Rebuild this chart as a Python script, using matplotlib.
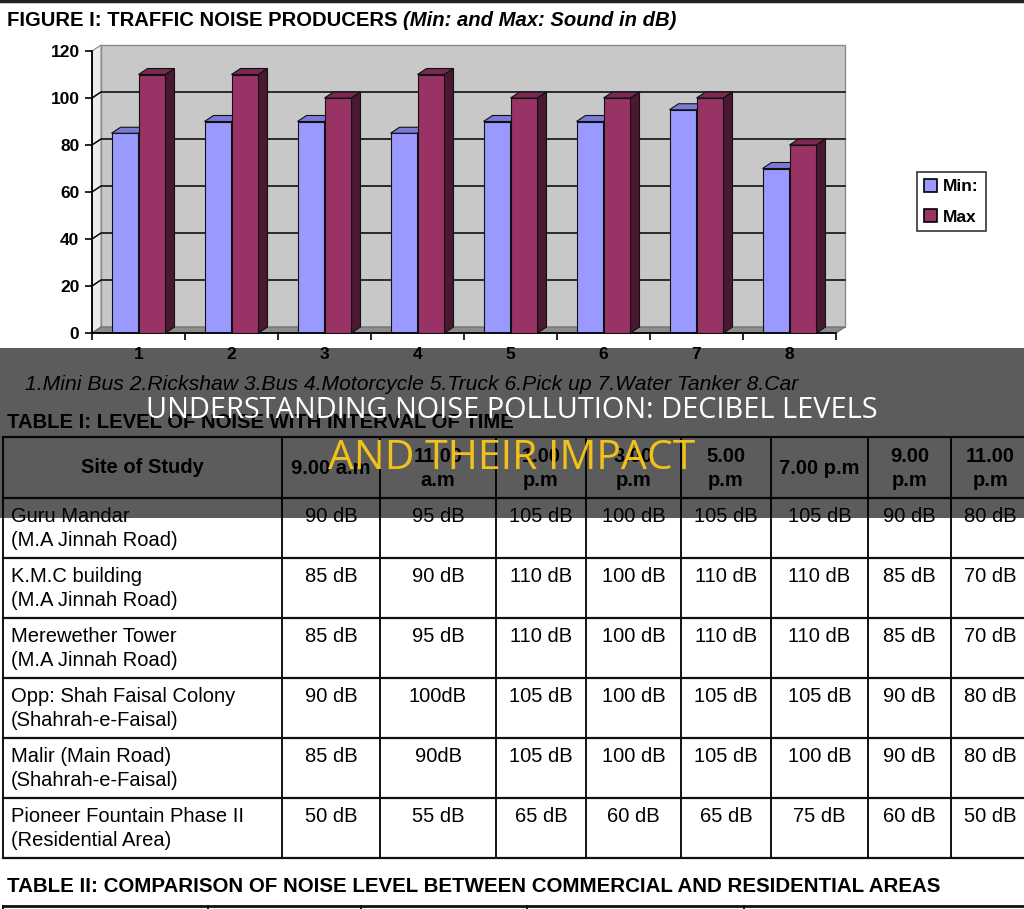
#!/usr/bin/env python3
"""plot.py - traffic noise page: 3D-style Min/Max bar chart + noise table + banner"""
import matplotlib

matplotlib.use("Agg")
import matplotlib.pyplot as plt
import numpy as np
from matplotlib import font_manager
from matplotlib.patches import Patch, Polygon, Rectangle

_names = {f.name for f in font_manager.fontManager.ttflist}


def pick(*names):
    for n in names:
        if n in _names:
            return n
    return "DejaVu Sans"


ARIAL = pick("Liberation Sans", "Arimo", "DejaVu Sans")
BANNER = pick("Open Sans", "Roboto", "Liberation Sans")

# ---- data ----
CATEGORIES = ["1", "2", "3", "4", "5", "6", "7", "8"]
MIN_DB = [85, 90, 90, 85, 90, 90, 95, 70]
MAX_DB = [110, 110, 100, 110, 100, 100, 100, 80]
SERIES = ["Min:", "Max"]
VEHICLES = ("1.Mini Bus 2.Rickshaw 3.Bus 4.Motorcycle 5.Truck 6.Pick up "
            "7.Water Tanker 8.Car")

TIME_HEADERS = ["9.00 a.m", "11.00\na.m", "1.00\np.m", "3.00\np.m",
                "5.00\np.m", "7.00 p.m", "9.00\np.m", "11.00\np.m"]
SITES = [("Guru Mandar", "(M.A Jinnah Road)"),
         ("K.M.C building", "(M.A Jinnah Road)"),
         ("Merewether Tower", "(M.A Jinnah Road)"),
         ("Opp: Shah Faisal Colony", "(Shahrah-e-Faisal)"),
         ("Malir (Main Road)", "(Shahrah-e-Faisal)"),
         ("Pioneer Fountain Phase II", "(Residential Area)")]
NOISE = [
    ["90 dB", "95 dB", "105 dB", "100 dB", "105 dB", "105 dB", "90 dB", "80 dB"],
    ["85 dB", "90 dB", "110 dB", "100 dB", "110 dB", "110 dB", "85 dB", "70 dB"],
    ["85 dB", "95 dB", "110 dB", "100 dB", "110 dB", "110 dB", "85 dB", "70 dB"],
    ["90 dB", "100dB", "105 dB", "100 dB", "105 dB", "105 dB", "90 dB", "80 dB"],
    ["85 dB", "90dB", "105 dB", "100 dB", "105 dB", "100 dB", "90 dB", "80 dB"],
    ["50 dB", "55 dB", "65 dB", "60 dB", "65 dB", "75 dB", "60 dB", "50 dB"],
]

W_PX, H_PX = 1024, 909
fig = plt.figure(figsize=(W_PX / 100, H_PX / 100), dpi=100)
fig.patch.set_facecolor("white")

page = fig.add_axes([0, 0, 1, 1])
page.set_xlim(0, W_PX)
page.set_ylim(H_PX, 0)
page.axis("off")

# ---- chart (3D look like the Excel original) ----
AX_L, AX_BOT, AX_W, AX_H = 92, 333, 744, 282
ax = fig.add_axes([AX_L / W_PX, (H_PX - AX_BOT) / H_PX, AX_W / W_PX, AX_H / H_PX])
ax.set_xlim(-0.5, len(CATEGORIES) - 0.5)
ax.set_ylim(0, 120)
ax.set_facecolor("none")
UX = len(CATEGORIES) / AX_W
UY = 120 / AX_H
DX, DY = 9 * UX, 6 * UY
BW = 27 * UX
x0, x1 = -0.5, len(CATEGORIES) - 0.5

# back wall, side wall, floor
ax.add_patch(Rectangle((x0 + DX, DY), x1 - x0, 120, facecolor="#C8C8C8",
                       edgecolor="#8A8A8A", lw=1.0, zorder=0, clip_on=False))
ax.add_patch(Polygon([(x0, 0), (x0 + DX, DY), (x0 + DX, 120 + DY), (x0, 120)],
                     facecolor="#EDEDED", edgecolor="#8A8A8A", lw=0.8,
                     zorder=0, clip_on=False))
ax.add_patch(Polygon([(x0, 0), (x1, 0), (x1 + DX, DY), (x0 + DX, DY)],
                     facecolor="#8C8C8C", edgecolor="#6A6A6A", lw=0.8,
                     zorder=0.5, clip_on=False))
for v in range(20, 101, 20):
    ax.plot([x0, x0 + DX, x1 + DX], [v, v + DY, v + DY], color="black",
            lw=1.1, zorder=0.8, clip_on=False)


def bar3d(xs, hs, front, top, side, z):
    ax.bar(xs, hs, width=BW, align="edge", color=front, edgecolor="#111111",
           lw=0.8, zorder=z)
    for l, h in zip(xs, hs):
        r = l + BW
        ax.add_patch(Polygon([(l, h), (l + DX, h + DY), (r + DX, h + DY), (r, h)],
                             facecolor=top, edgecolor="#111111", lw=0.8,
                             zorder=z, clip_on=False))
        ax.add_patch(Polygon([(r, 0), (r + DX, DY), (r + DX, h + DY), (r, h)],
                             facecolor=side, edgecolor="#111111", lw=0.8,
                             zorder=z, clip_on=False))


xc = np.arange(len(CATEGORIES))
bar3d(xc - BW, MIN_DB, "#9999FF", "#7B7BD6", "#5C5CA3", 2)
bar3d(xc, MAX_DB, "#993366", "#7A2952", "#4A1830", 3)

for s in ("top", "right"):
    ax.spines[s].set_visible(False)
ax.spines["left"].set_linewidth(1.3)
ax.spines["bottom"].set_linewidth(1.3)
ax.set_yticks(range(0, 121, 20))
ax.set_xticks(xc)
ax.set_xticklabels(CATEGORIES)
ax.set_xticks(np.arange(x0, x1 + 0.01, 1), minor=True)
ax.tick_params(axis="x", which="major", length=0, pad=10)
ax.tick_params(axis="x", which="minor", length=5, width=1.2, direction="out")
ax.tick_params(axis="y", length=5, width=1.2, direction="out", pad=4)
for lab in ax.get_xticklabels() + ax.get_yticklabels():
    lab.set_fontfamily(ARIAL)
    lab.set_fontweight("bold")
    lab.set_fontsize(12.5)

handles = [Patch(facecolor="#9999FF", edgecolor="black", lw=1.2),
           Patch(facecolor="#993366", edgecolor="black", lw=1.2)]
leg = fig.legend(handles, SERIES, loc="upper left",
                 bbox_to_anchor=(917 / W_PX, 1 - 172 / H_PX),
                 prop={"family": ARIAL, "weight": "bold", "size": 12.5},
                 frameon=True, fancybox=False, handlelength=0.75,
                 handleheight=0.75, handletextpad=0.35, labelspacing=0.85,
                 borderpad=0.4, borderaxespad=0)
leg.get_frame().set_edgecolor("black")
leg.get_frame().set_linewidth(1.2)

# ---- page texts ----
page.plot([0, W_PX], [1, 1], color="#222222", lw=2.5)
t1 = page.text(7, 20, "FIGURE I: TRAFFIC NOISE PRODUCERS ", fontfamily=ARIAL,
               fontweight="bold", fontsize=14.6, va="center", ha="left")
page.annotate("(Min: and Max: Sound in dB)", xy=(1, 0.5), xycoords=t1,
              va="center", ha="left", fontfamily=ARIAL, fontweight="bold",
              fontstyle="italic", fontsize=14.6)
page.text(25, 384, VEHICLES, fontfamily=ARIAL, fontstyle="italic",
          fontsize=15.2, va="center", ha="left")
page.text(7, 422, "TABLE I: LEVEL OF NOISE WITH INTERVAL OF TIME",
          fontfamily=ARIAL, fontweight="bold", fontsize=14.6, va="center")
page.text(7, 887, "TABLE II: COMPARISON OF NOISE LEVEL BETWEEN COMMERCIAL "
          "AND RESIDENTIAL AREAS", fontfamily=ARIAL, fontweight="bold",
          fontsize=14.8, va="center")

# ---- table I ----
COL_EDGES = [3, 282, 380, 496, 586, 681, 771, 868, 951, 1030]
ROW_EDGES = [437, 498, 558, 618, 678, 738, 798, 858]
for y in ROW_EDGES:
    page.plot([COL_EDGES[0], COL_EDGES[-1]], [y, y], color="#111111", lw=1.6)
for xe in COL_EDGES:
    page.plot([xe, xe], [ROW_EDGES[0], ROW_EDGES[-1]], color="#111111", lw=1.4)

hdr_y = (ROW_EDGES[0] + ROW_EDGES[1]) / 2
page.text((COL_EDGES[0] + COL_EDGES[1]) / 2, hdr_y, "Site of Study",
          fontfamily=ARIAL, fontweight="bold", fontsize=14.5, ha="center",
          va="center")
for j, h in enumerate(TIME_HEADERS):
    page.text((COL_EDGES[j + 1] + COL_EDGES[j + 2]) / 2, hdr_y + 1, h,
              fontfamily=ARIAL, fontweight="bold", fontsize=14.5, ha="center",
              va="center", linespacing=1.4, multialignment="center")
for i, (name, road) in enumerate(SITES):
    top = ROW_EDGES[i + 1]
    page.text(11, top + 19, name, fontfamily=ARIAL, fontsize=14.5, ha="left",
              va="center")
    page.text(11, top + 43, road, fontfamily=ARIAL, fontsize=14.5, ha="left",
              va="center")
    for j, val in enumerate(NOISE[i]):
        page.text((COL_EDGES[j + 1] + COL_EDGES[j + 2]) / 2, top + 19, val,
                  fontfamily=ARIAL, fontsize=14.5, ha="center", va="center")

# ---- table II (only its top edge is visible) ----
T2_COLS = [3, 208, 361, 527, 744]
page.plot([3, W_PX], [906, 906], color="#111111", lw=2.0)
for xe in T2_COLS:
    page.plot([xe, xe], [906, H_PX], color="#111111", lw=1.4)

# ---- banner overlay ----
over = fig.add_axes([0, 0, 1, 1], zorder=5)
over.set_xlim(0, W_PX)
over.set_ylim(H_PX, 0)
over.axis("off")
over.add_patch(Rectangle((0, 348), W_PX, 170, facecolor="black", alpha=0.64,
                         lw=0))
over.text(W_PX / 2, 411, "UNDERSTANDING NOISE POLLUTION: DECIBEL LEVELS",
          color="white", fontfamily=BANNER, fontsize=20.8, ha="center",
          va="center")
over.text(W_PX / 2, 459, "AND THEIR IMPACT", color="#F2C21B",
          fontfamily=BANNER, fontsize=29.5, ha="center", va="center")

fig.savefig("out.png", dpi=100)
